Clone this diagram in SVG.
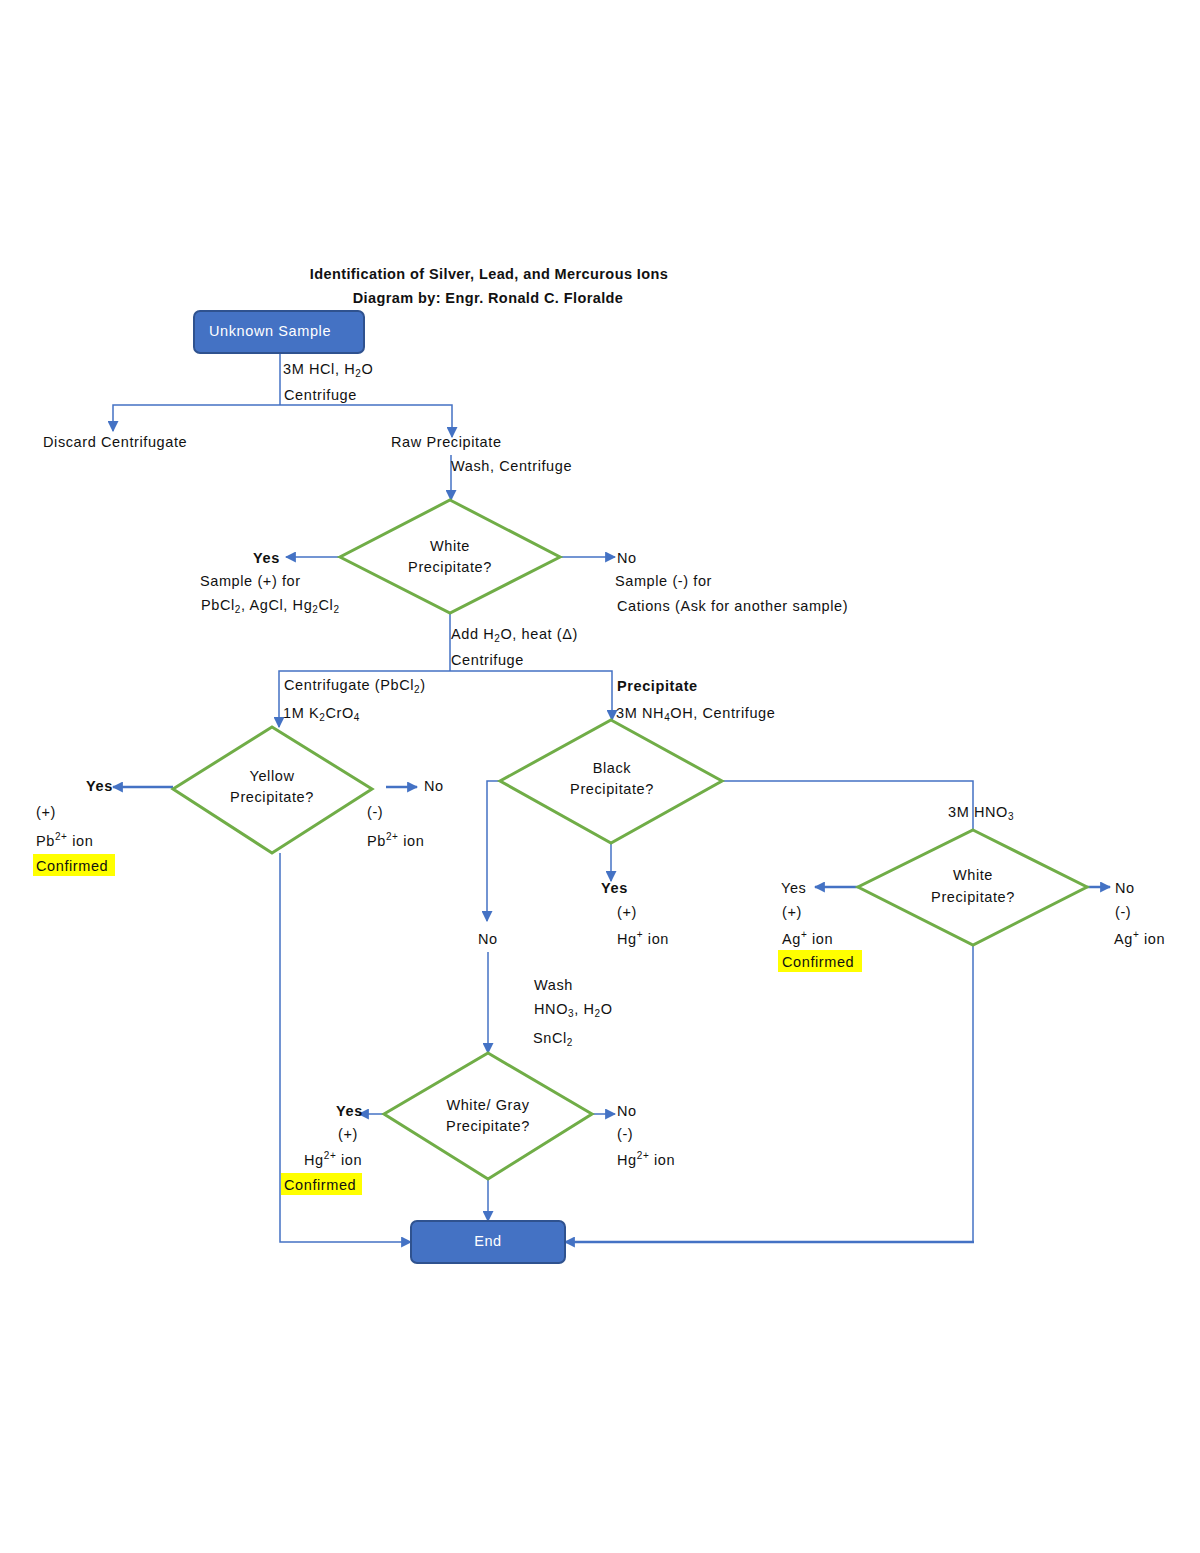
<svg xmlns="http://www.w3.org/2000/svg" width="1200" height="1553" viewBox="0 0 1200 1553">
<style>
text{font-family:"Liberation Sans",Arial,sans-serif;font-size:14.5px;fill:#111;letter-spacing:0.6px}
.b{font-weight:bold}
.t{letter-spacing:0.4px}
.c{text-anchor:middle}
.w{fill:#fff}
.ln{fill:none;stroke:#4472C4;stroke-width:1.5}
.thk{stroke-width:2.5}
.dia{fill:#fff;stroke:#70AD47;stroke-width:3}
.box{fill:#4472C4;stroke:#2F528F;stroke-width:2}
.hl{fill:#FFFF00}
</style>
<defs>
<marker id="ar" viewBox="0 0 10 10" refX="9" refY="5" markerWidth="11" markerHeight="11" markerUnits="userSpaceOnUse" orient="auto">
<path d="M0,0 L10,5 L0,10 z" fill="#4472C4"/>
</marker>
</defs>
<rect width="1200" height="1553" fill="#fff"/>
<g id="title">
<text class="b c t" x="489" y="279">Identification of Silver, Lead, and Mercurous Ions</text>
<text class="b c t" x="488" y="303">Diagram by: Engr. Ronald C. Floralde</text>
</g>
<g id="connectors">
<path class="ln" d="M280,353 V405"/>
<path class="ln" d="M280,405 H113 V431" marker-end="url(#ar)"/>
<path class="ln" d="M280,405 H452 V437" marker-end="url(#ar)"/>
<path class="ln" d="M451,455 V500" marker-end="url(#ar)"/>
<path class="ln" d="M340,557 H286" marker-end="url(#ar)"/>
<path class="ln" d="M560,557 H615" marker-end="url(#ar)"/>
<path class="ln" d="M450,613 V671"/>
<path class="ln" d="M450,671 H279 V727" marker-end="url(#ar)"/>
<path class="ln" d="M450,671 H612 V720" marker-end="url(#ar)"/>
<path class="ln thk" d="M173,787 H113" marker-end="url(#ar)"/>
<path class="ln thk" d="M386,787 H417" marker-end="url(#ar)"/>
<path class="ln" d="M280,853 V1242 H411" marker-end="url(#ar)"/>
<path class="ln" d="M500,781 H487 V921" marker-end="url(#ar)"/>
<path class="ln" d="M611,843 V881" marker-end="url(#ar)"/>
<path class="ln" d="M722,781 H973 V830"/>
<path class="ln thk" d="M858,887 H815" marker-end="url(#ar)"/>
<path class="ln thk" d="M1087,887 H1110" marker-end="url(#ar)"/>
<path class="ln" d="M973,945 V1242"/>
<path class="ln thk" d="M974,1242 H565" marker-end="url(#ar)"/>
<path class="ln" d="M488,952 V1053" marker-end="url(#ar)"/>
<path class="ln" d="M384,1114 H359" marker-end="url(#ar)"/>
<path class="ln" d="M592,1114 H615" marker-end="url(#ar)"/>
<path class="ln" d="M488,1179 V1221" marker-end="url(#ar)"/>
</g>
<g id="labels">
<text x="283" y="374">3M HCl, H<tspan font-size="10" dy="3">2</tspan><tspan dy="-3">O</tspan></text>
<text x="284" y="400">Centrifuge</text>
<text x="43" y="447">Discard Centrifugate</text>
<text x="391" y="447">Raw Precipitate</text>
<text x="451" y="471">Wash, Centrifuge</text>
<text x="451" y="639">Add H<tspan font-size="10" dy="3">2</tspan><tspan dy="-3">O, heat (Δ)</tspan></text>
<text x="451" y="665">Centrifuge</text>
<text x="284" y="690">Centrifugate (PbCl<tspan font-size="10" dy="3">2</tspan><tspan dy="-3">)</tspan></text>
<text x="283" y="718">1M K<tspan font-size="10" dy="3">2</tspan><tspan dy="-3">CrO</tspan><tspan font-size="10" dy="3">4</tspan></text>
<text class="b" x="617" y="691">Precipitate</text>
<text x="616" y="718">3M NH<tspan font-size="10" dy="3">4</tspan><tspan dy="-3">OH, Centrifuge</tspan></text>
<text x="948" y="817">3M HNO<tspan font-size="10" dy="3">3</tspan></text>
<text x="534" y="990">Wash</text>
<text x="534" y="1014">HNO<tspan font-size="10" dy="3">3</tspan><tspan dy="-3">, H</tspan><tspan font-size="10" dy="3">2</tspan><tspan dy="-3">O</tspan></text>
<text x="533" y="1043">SnCl<tspan font-size="10" dy="3">2</tspan></text>
</g>
<g id="n-unknown">
<rect class="box" x="194" y="311" width="170" height="42" rx="6"/>
<text class="w" x="209" y="336">Unknown Sample</text>
</g>
<g id="n-white1">
<polygon class="dia" points="450,500 560,557 450,613 340,557"/>
<text class="c" x="450" y="551">White</text>
<text class="c" x="450" y="572">Precipitate?</text>
</g>
<g id="n-white1-yes">
<text class="b" x="253" y="563">Yes</text>
<text x="200" y="586">Sample (+) for</text>
<text x="201" y="610">PbCl<tspan font-size="10" dy="3">2</tspan><tspan dy="-3">, AgCl, Hg</tspan><tspan font-size="10" dy="3">2</tspan><tspan dy="-3">Cl</tspan><tspan font-size="10" dy="3">2</tspan></text>
</g>
<g id="n-white1-no">
<text x="617" y="563">No</text>
<text x="615" y="586">Sample (-) for</text>
<text x="617" y="611">Cations (Ask for another sample)</text>
</g>
<g id="n-yellow">
<polygon class="dia" points="272,727 372,789 272,853 173,789"/>
<text class="c" x="272" y="781">Yellow</text>
<text class="c" x="272" y="802">Precipitate?</text>
</g>
<g id="n-yellow-yes">
<text class="b" x="86" y="791">Yes</text>
<text x="36" y="817">(+)</text>
<text x="36" y="846">Pb<tspan font-size="10" dy="-6">2+</tspan><tspan dy="6"> ion</tspan></text>
<rect class="hl" x="33" y="854" width="82" height="22"/>
<text x="36" y="871">Confirmed</text>
</g>
<g id="n-yellow-no">
<text x="424" y="791">No</text>
<text x="367" y="817">(-)</text>
<text x="367" y="846">Pb<tspan font-size="10" dy="-6">2+</tspan><tspan dy="6"> ion</tspan></text>
</g>
<g id="n-black">
<polygon class="dia" points="611,720 722,781 611,843 500,781"/>
<text class="c" x="612" y="773">Black</text>
<text class="c" x="612" y="794">Precipitate?</text>
</g>
<g id="n-black-yes">
<text class="b" x="601" y="893">Yes</text>
<text x="617" y="917">(+)</text>
<text x="617" y="944">Hg<tspan font-size="10" dy="-6">+</tspan><tspan dy="6"> ion</tspan></text>
</g>
<g id="n-black-no">
<text x="478" y="944">No</text>
</g>
<g id="n-white2">
<polygon class="dia" points="973,830 1087,887 973,945 858,887"/>
<text class="c" x="973" y="880">White</text>
<text class="c" x="973" y="902">Precipitate?</text>
</g>
<g id="n-white2-yes">
<text x="781" y="893">Yes</text>
<text x="782" y="917">(+)</text>
<text x="782" y="944">Ag<tspan font-size="10" dy="-6">+</tspan><tspan dy="6"> ion</tspan></text>
<rect class="hl" x="778" y="950" width="84" height="22"/>
<text x="782" y="967">Confirmed</text>
</g>
<g id="n-white2-no">
<text x="1115" y="893">No</text>
<text x="1115" y="917">(-)</text>
<text x="1114" y="944">Ag<tspan font-size="10" dy="-6">+</tspan><tspan dy="6"> ion</tspan></text>
</g>
<g id="n-whitegray">
<polygon class="dia" points="488,1053 592,1114 488,1179 384,1114"/>
<text class="c" x="488" y="1110">White/ Gray</text>
<text class="c" x="488" y="1131">Precipitate?</text>
</g>
<g id="n-whitegray-yes">
<text class="b" x="336" y="1116">Yes</text>
<text x="338" y="1139">(+)</text>
<text x="304" y="1165">Hg<tspan font-size="10" dy="-6">2+</tspan><tspan dy="6"> ion</tspan></text>
<rect class="hl" x="281" y="1173" width="81" height="22"/>
<text x="284" y="1190">Confirmed</text>
</g>
<g id="n-whitegray-no">
<text x="617" y="1116">No</text>
<text x="617" y="1139">(-)</text>
<text x="617" y="1165">Hg<tspan font-size="10" dy="-6">2+</tspan><tspan dy="6"> ion</tspan></text>
</g>
<g id="n-end">
<rect class="box" x="411" y="1221" width="154" height="42" rx="6"/>
<text class="w c" x="488" y="1246">End</text>
</g>
</svg>
